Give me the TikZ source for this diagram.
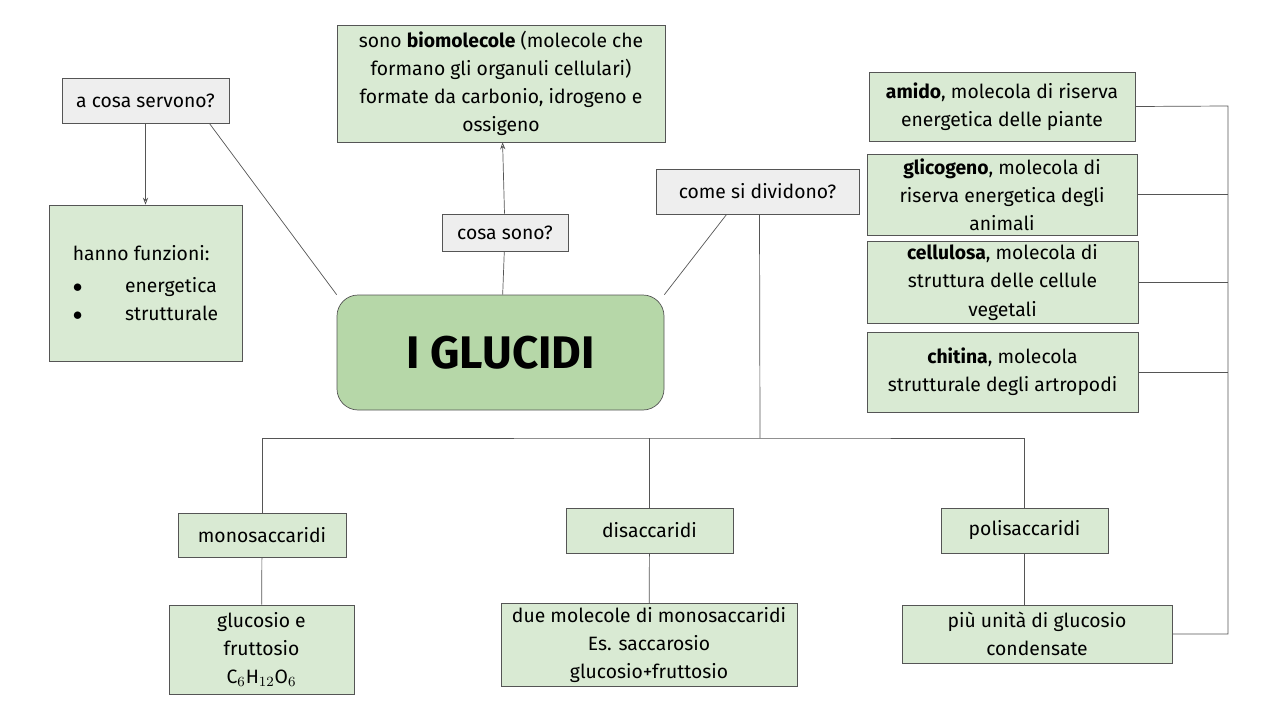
\documentclass[tikz,border=0pt]{standalone}
\usepackage{fontspec}
\setmainfont{Fira Sans}
\usetikzlibrary{arrows.meta}
\definecolor{leaf}{HTML}{D9EAD3}
\definecolor{core}{HTML}{B6D7A8}
\definecolor{ask}{HTML}{EEEEEE}
\definecolor{rim}{HTML}{555555}
\begin{document}
\begin{tikzpicture}
[ x=0.02cm, y=-0.02cm, thin
, font=\fontsize{11}{16}\selectfont
, box/.style={rectangle, draw=rim, fill=leaf, align=center, inner sep=2pt}
, question/.style={rectangle, draw=rim, fill=ask, align=center, inner sep=2pt}
, link/.style={draw=rim}
, pointer/.style={draw=rim, -{Stealth[length=4pt,width=3pt,open]}}
]
\useasboundingbox (0,0) rectangle (1280,720);
% questions
\node (servono) [question, minimum width=167*0.02cm, minimum height=45*0.02cm] at (145.5,100.5) {a cosa servono?};
\node (sono) [question, minimum width=126*0.02cm, minimum height=37*0.02cm] at (505,232.5) {cosa sono?};
\node (dividono) [question, minimum width=203*0.02cm, minimum height=45*0.02cm] at (757.5,191.5) {come si dividono?};
% centre
\node (glucidi) [box, fill=core, rounded corners=12pt, minimum width=327*0.02cm, minimum height=115*0.02cm, font=\fontsize{26}{30}\selectfont\bfseries] at (500.5,352.5) {I GLUCIDI};
% answers
\node (funzioni) [box, minimum width=193*0.02cm, minimum height=156*0.02cm, align=left] at (145.5,283)
  {hanno funzioni:\\[2pt] $\bullet$\hspace{2.2em}energetica\\ $\bullet$\hspace{2.2em}strutturale};
\node (biomol) [box, minimum width=328*0.02cm, minimum height=117*0.02cm] at (501,83.5)
  {sono \textbf{biomolecole} (molecole che\\ formano gli organuli cellulari)\\ formate da carbonio, idrogeno e\\ ossigeno};
% classes
\node (mono) [box, minimum width=168*0.02cm, minimum height=44*0.02cm] at (262,535) {monosaccaridi};
\node (di) [box, minimum width=167*0.02cm, minimum height=45*0.02cm] at (649.5,530.5) {disaccaridi};
\node (poli) [box, minimum width=167*0.02cm, minimum height=45*0.02cm] at (1024.5,530.5) {polisaccaridi};
\node (monoex) [box, minimum width=185*0.02cm, minimum height=89*0.02cm] at (261.5,649.5) {glucosio e\\ fruttosio\\ C$_6$H$_{12}$O$_6$};
\node (diex) [box, minimum width=296*0.02cm, minimum height=82*0.02cm] at (649,645) {due molecole di monosaccaridi\\ Es. saccarosio\\ glucosio+fruttosio};
\node (poliex) [box, minimum width=270*0.02cm, minimum height=58*0.02cm] at (1037,634) {più unità di glucosio\\ condensate};
% polysaccharides
\node (amido) [box, minimum width=266*0.02cm, minimum height=69*0.02cm] at (1002,106.5) {\textbf{amido}, molecola di riserva\\ energetica delle piante};
\node (glicogeno) [box, minimum width=270*0.02cm, minimum height=81*0.02cm] at (1002,194.5) {\textbf{glicogeno}, molecola di\\ riserva energetica degli\\ animali};
\node (cellulosa) [box, minimum width=271*0.02cm, minimum height=81*0.02cm] at (1002.5,282.5) {\textbf{cellulosa}, molecola di\\ struttura delle cellule\\ vegetali};
\node (chitina) [box, minimum width=271*0.02cm, minimum height=80*0.02cm] at (1002.5,372) {\textbf{chitina}, molecola\\ strutturale degli artropodi};
% connectors
\draw [pointer] (servono) -- (funzioni);
\draw [link] ([xshift=-0.4cm]servono.south east) -- (glucidi.north west);
\draw [link] (glucidi) -- (sono);
\draw [pointer] (sono) -- (biomol);
\draw [link] (glucidi.north east) -- ([xshift=1.42cm]dividono.south west);
\coordinate (fork) at (760,438);
\draw [link] ([xshift=0.04cm]dividono.south) -- (fork);
\draw [link] (mono.north) |- (fork) -| (poli.north);
\draw [link] (di.north) -- (di.north |- fork);
\draw [link] (mono) -- (monoex);
\draw [link] (di) -- (diex);
\draw [link] (poli.south) -- (poli.south |- poliex.north);
\coordinate (rail) at (1228,106);
\draw [link] (amido.east) -- (rail) |- (poliex.east);
\foreach \n in {glicogeno, cellulosa, chitina}
  \draw [link] (\n.east) -- (\n.east -| rail);
\end{tikzpicture}
\end{document}
